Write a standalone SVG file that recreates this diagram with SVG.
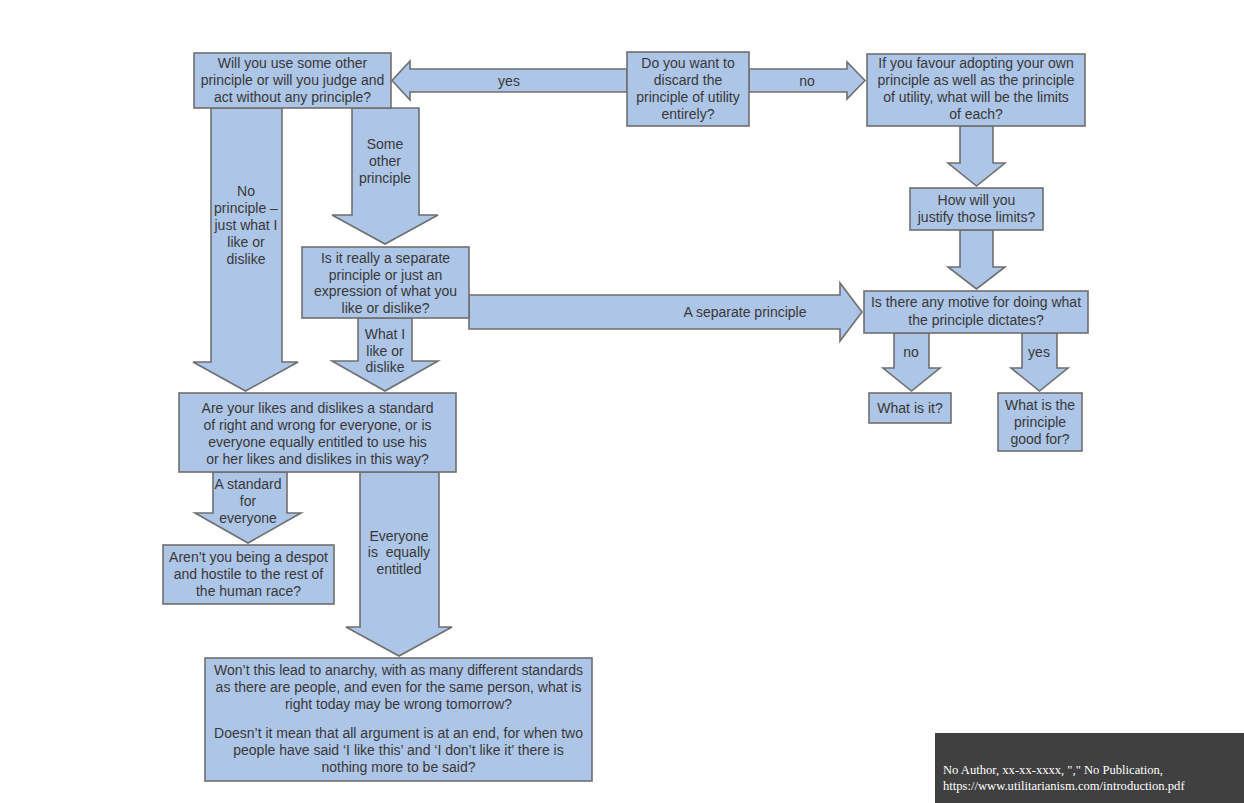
<svg xmlns="http://www.w3.org/2000/svg" width="1244" height="803" viewBox="0 0 1244 803">
<style>
.n{fill:#adc5e7;stroke:#6f6f70;stroke-width:1.6}
.a{fill:#adc5e7;stroke:#6f6f70;stroke-width:1.6;stroke-linejoin:miter}
text{font-family:"Liberation Sans",Arial,sans-serif;font-size:14px;fill:#383838;text-anchor:middle;dominant-baseline:central}
.cap{font-family:"Liberation Serif","Times New Roman",serif;font-size:12.6px;fill:#ffffff;text-anchor:start;dominant-baseline:alphabetic}
</style>
<rect width="1244" height="803" fill="#ffffff"/>
<g id="connectors">
<polygon class="a" points="627,69 410,69 410,61 392,80.5 410,100 410,92 627,92"/>
<text x="509" y="81">yes</text>
<polygon class="a" points="749,69 847,69 847,62 865,80.5 847,99 847,92 749,92"/>
<text x="807" y="81">no</text>
<polygon class="a" points="960,126 993,126 993,163 1005,163 976.5,186 948,163 960,163"/>
<polygon class="a" points="960,230 993,230 993,267 1005,267 976.5,289 948,267 960,267"/>
<polygon class="a" points="894,333 929,333 929,368 940,368 911.5,391 883,368 894,368"/>
<text x="911" y="352">no</text>
<polygon class="a" points="1022,333 1057,333 1057,368 1068,368 1039.5,391 1011,368 1022,368"/>
<text x="1039" y="352">yes</text>
<polygon class="a" points="211,108 282,108 282,362 298,362 245.5,391 193,362 211,362"/>
<text x="246" y="191">No</text>
<text x="246" y="208">principle –</text>
<text x="246" y="225">just what I</text>
<text x="246" y="242">like or</text>
<text x="246" y="259">dislike</text>
<polygon class="a" points="352,108 419,108 419,215 438,215 385,244 332,215 352,215"/>
<text x="385" y="144">Some</text>
<text x="385" y="161">other</text>
<text x="385" y="178">principle</text>
<polygon class="a" points="358,318 412,318 412,361 438,361 385,391 332,361 358,361"/>
<text x="385" y="334">What I</text>
<text x="385" y="351">like or</text>
<text x="385" y="367">dislike</text>
<polygon class="a" points="469,295 840,295 840,283 862,312 840,341 840,329 469,329"/>
<text x="745" y="312">A separate principle</text>
<polygon class="a" points="213,472 287,472 287,513 301,513 248,543 195,513 213,513"/>
<text x="248" y="484">A standard</text>
<text x="248" y="501">for</text>
<text x="248" y="518">everyone</text>
<polygon class="a" points="360,472 439,472 439,627 452,627 399,656 346,627 360,627"/>
<text x="399" y="536">Everyone</text>
<text x="399" y="552" xml:space="preserve">is  equally</text>
<text x="399" y="569">entitled</text>
</g>
<g id="n1"><rect class="n" x="194" y="53" width="197" height="55"/>
<text x="292.5" y="63">Will you use some other</text>
<text x="292.5" y="80">principle or will you judge and</text>
<text x="292.5" y="97">act without any principle?</text></g>
<g id="n2"><rect class="n" x="627" y="52" width="122" height="74"/>
<text x="688" y="63">Do you want to</text>
<text x="688" y="80">discard the</text>
<text x="688" y="97">principle of utility</text>
<text x="688" y="114">entirely?</text></g>
<g id="n3"><rect class="n" x="867" y="54" width="218" height="72"/>
<text x="976" y="63">If you favour adopting your own</text>
<text x="976" y="80">principle as well as the principle</text>
<text x="976" y="97">of utility, what will be the limits</text>
<text x="976" y="114">of each?</text></g>
<g id="n4"><rect class="n" x="910" y="188" width="133" height="42"/>
<text x="976.5" y="200">How will you</text>
<text x="976.5" y="217">justify those limits?</text></g>
<g id="n5"><rect class="n" x="864" y="291" width="224" height="42"/>
<text x="976" y="302">Is there any motive for doing what</text>
<text x="976" y="320">the principle dictates?</text></g>
<g id="n6"><rect class="n" x="869" y="393" width="82" height="30"/>
<text x="910" y="408">What is it?</text></g>
<g id="n7"><rect class="n" x="998" y="393" width="84" height="58"/>
<text x="1040" y="405">What is the</text>
<text x="1040" y="422">principle</text>
<text x="1040" y="439">good for?</text></g>
<g id="n8"><rect class="n" x="302" y="247" width="167" height="71"/>
<text x="385.5" y="258">Is it really a separate</text>
<text x="385.5" y="275">principle or just an</text>
<text x="385.5" y="291">expression of what you</text>
<text x="385.5" y="308">like or dislike?</text></g>
<g id="n9"><rect class="n" x="179" y="393" width="277" height="79"/>
<text x="317.5" y="408">Are your likes and dislikes a standard</text>
<text x="317.5" y="425">of right and wrong for everyone, or is</text>
<text x="317.5" y="442">everyone equally entitled to use his</text>
<text x="317.5" y="459">or her likes and dislikes in this way?</text></g>
<g id="n10"><rect class="n" x="163" y="545" width="171" height="59"/>
<text x="248.5" y="557">Aren’t you being a despot</text>
<text x="248.5" y="574">and hostile to the rest of</text>
<text x="248.5" y="591">the human race?</text></g>
<g id="n11"><rect class="n" x="205" y="658" width="387" height="123"/>
<text x="398.5" y="670">Won’t this lead to anarchy, with as many different standards</text>
<text x="398.5" y="687">as there are people, and even for the same person, what is</text>
<text x="398.5" y="704">right today may be wrong tomorrow?</text>
<text x="398.5" y="733">Doesn’t it mean that all argument is at an end, for when two</text>
<text x="398.5" y="750">people have said ‘I like this’ and ‘I don’t like it’ there is</text>
<text x="398.5" y="767">nothing more to be said?</text></g>
<g id="caption"><rect x="935" y="733" width="309" height="70" fill="#404040"/>
<text class="cap" x="943" y="774">No Author, xx-xx-xxxx, &quot;,&quot; No Publication,</text>
<text class="cap" x="943" y="790">https://www.utilitarianism.com/introduction.pdf</text></g>
</svg>
